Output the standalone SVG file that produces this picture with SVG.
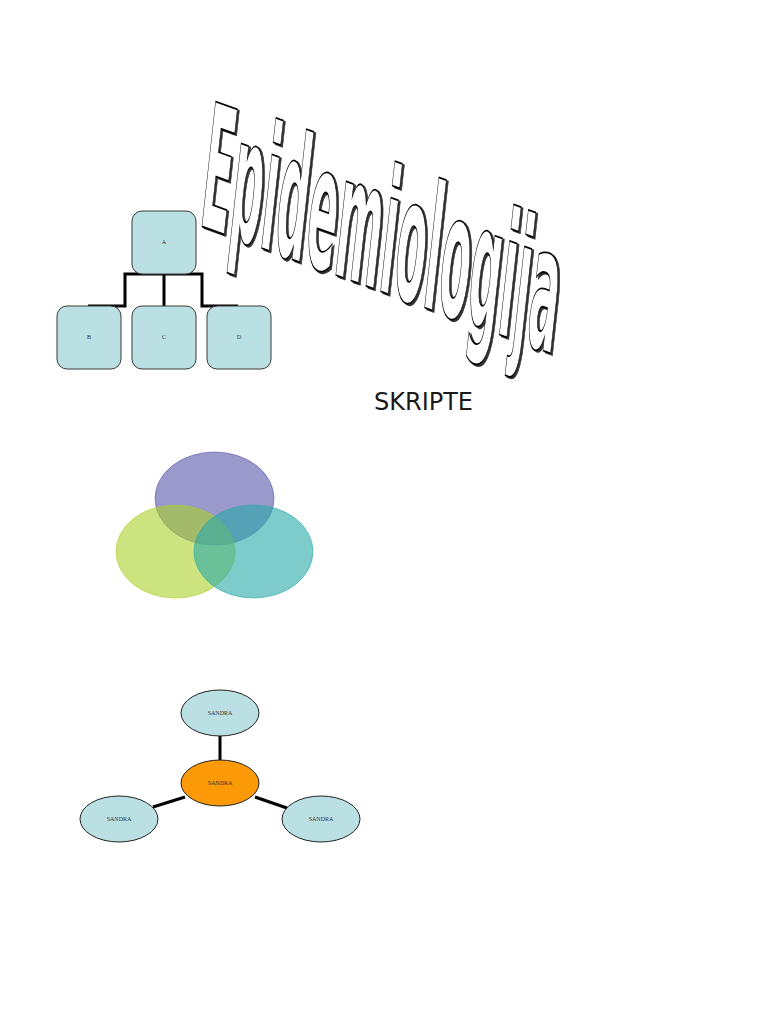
<svg xmlns="http://www.w3.org/2000/svg" width="768" height="1024" viewBox="0 0 768 1024">
<style>
.box{fill:#bbe0e3;stroke:#3a3a3a;stroke-width:1}
.lbl{font-family:"Liberation Serif",serif;font-size:6px;fill:#333;text-anchor:middle}
.conn{stroke:#000;stroke-width:3;fill:none}
.ell{fill:#bbe0e3;stroke:#222;stroke-width:1}
.wa{font-family:"DejaVu Sans",sans-serif;font-weight:bold;font-size:44px}
</style>
<rect width="768" height="1024" fill="#fff"/>
<g id="title">
<text class="wa" x="0" y="0" textLength="356" lengthAdjust="spacingAndGlyphs" transform="translate(200,226.5) skewY(20) skewX(-6) scale(1,4.05)" fill="#333" stroke="#333" stroke-width="1.5" vector-effect="non-scaling-stroke">Epidemiologija</text>
<text class="wa" x="0" y="0" textLength="356" lengthAdjust="spacingAndGlyphs" transform="translate(198,225) skewY(20) skewX(-6) scale(1,4.05)" fill="#fff" stroke="#000" stroke-width="1.3" vector-effect="non-scaling-stroke">Epidemiologija</text>
</g>
<g id="connectors">
<polyline class="conn" points="88,306 125,306 125,274 202,274 202,306 238,306"/>
<line class="conn" x1="164" y1="274" x2="164" y2="306"/>
<line class="conn" x1="220" y1="736" x2="220" y2="760"/>
<line class="conn" x1="153" y1="807" x2="185" y2="797"/>
<line class="conn" x1="255" y1="797" x2="287" y2="808"/>
</g>
<g id="nodeA"><rect class="box" x="132" y="211" width="64" height="63" rx="10"/><text class="lbl" x="164" y="244">A</text></g>
<g id="nodeB"><rect class="box" x="57" y="306" width="64" height="63" rx="10"/><text class="lbl" x="89" y="339">B</text></g>
<g id="nodeC"><rect class="box" x="132" y="306" width="64" height="63" rx="10"/><text class="lbl" x="164" y="339">C</text></g>
<g id="nodeD"><rect class="box" x="207" y="306" width="64" height="63" rx="10"/><text class="lbl" x="239" y="339">D</text></g>
<g id="skripte"><text x="374" y="410" font-family="DejaVu Sans, sans-serif" font-size="24" fill="#1a1a1a" textLength="99" lengthAdjust="spacingAndGlyphs">SKRIPTE</text></g>
<g id="venn">
<ellipse cx="214.5" cy="498.5" rx="59.5" ry="46.5" fill="#5555aa" fill-opacity="0.6" stroke="#5555aa" stroke-opacity="0.7" stroke-width="0.8"/>
<ellipse cx="175.5" cy="551.5" rx="59.5" ry="46.5" fill="#aad02a" fill-opacity="0.6" stroke="#aad02a" stroke-opacity="0.7" stroke-width="0.8"/>
<ellipse cx="253.5" cy="551.5" rx="59.5" ry="46.5" fill="#28a8a8" fill-opacity="0.6" stroke="#28a8a8" stroke-opacity="0.7" stroke-width="0.8"/>
</g>
<g id="sTop"><ellipse class="ell" cx="220" cy="713" rx="39" ry="23"/><text class="lbl" x="220" y="715" font-size="5">SANDRA</text></g>
<g id="sCenter"><ellipse class="ell" cx="220" cy="783" rx="39" ry="23" style="fill:#fb9a06"/><text class="lbl" x="220" y="785" font-size="5">SANDRA</text></g>
<g id="sLeft"><ellipse class="ell" cx="119" cy="819" rx="39" ry="23"/><text class="lbl" x="119" y="821" font-size="5">SANDRA</text></g>
<g id="sRight"><ellipse class="ell" cx="321" cy="819" rx="39" ry="23"/><text class="lbl" x="321" y="821" font-size="5">SANDRA</text></g>
</svg>
